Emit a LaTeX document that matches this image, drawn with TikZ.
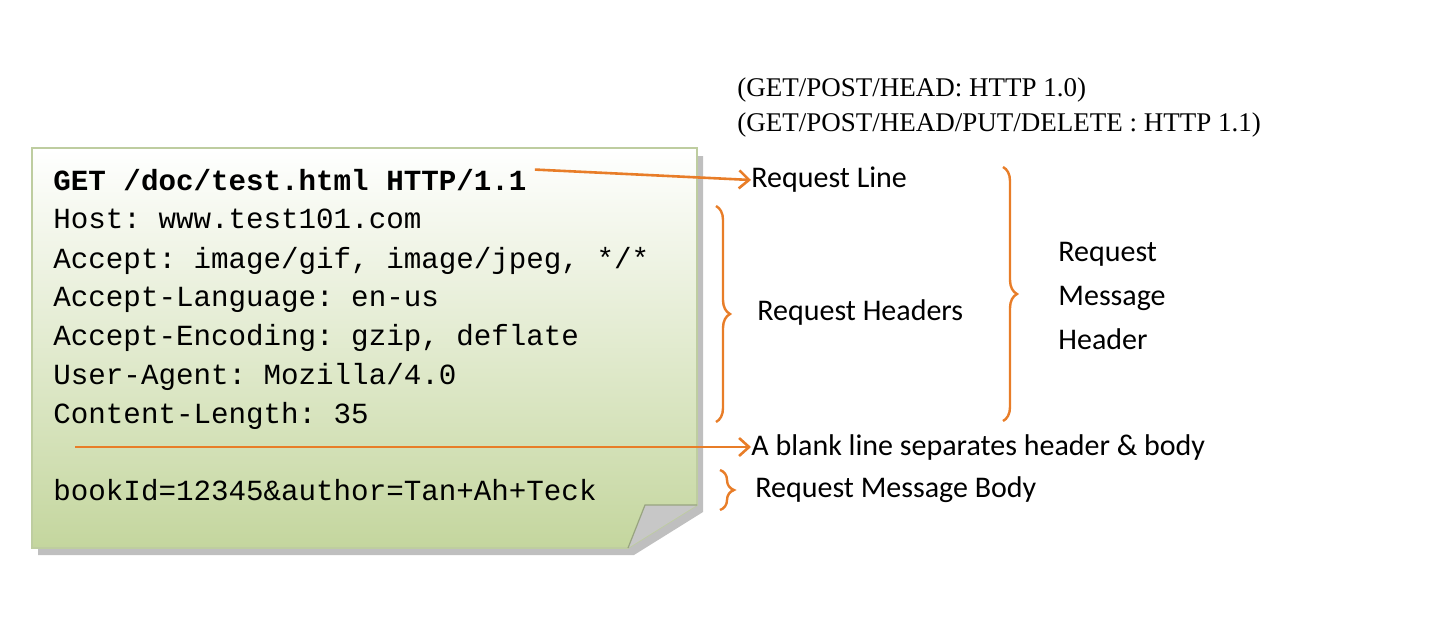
\documentclass[tikz,border=0pt]{standalone}
\usepackage{fontspec}
\setmainfont{Carlito}
\setmonofont{Liberation Mono}
\newfontfamily\timesfont{Liberation Serif}
\usetikzlibrary{arrows.meta,decorations.pathreplacing}
\definecolor{arrowor}{RGB}{232,125,40}
\definecolor{notegreen}{RGB}{196,214,158}
\definecolor{noteedge}{RGB}{190,205,160}
\begin{document}
\begin{tikzpicture}[x=0.5pt,y=-0.5pt,
  code/.style={anchor=base west,inner sep=0,font=\ttfamily\fontsize{14.6}{16}\selectfont},
  lbl/.style={anchor=west,inner sep=0,font=\fontsize{15}{18}\selectfont},
  top/.style={anchor=west,inner sep=0,font=\timesfont\fontsize{13.5}{16}\selectfont},
  orarrow/.style={draw=arrowor,line width=1.3pt,-{Straight Barb[length=5pt,width=9pt]}},
  orbrace/.style={draw=arrowor,line width=1.2pt,decorate,decoration={brace,amplitude=7pt}}]
\useasboundingbox (0,0) rectangle (1438,616);
% note
\path[fill=black!25] (38,156) -- (703,156) -- (703,512) -- (634,555) -- (38,555) -- cycle;
\path[top color=white,bottom color=notegreen,draw=noteedge,line width=0.8pt]
  (32,148) -- (697,148) -- (697,505) -- (628,548) -- (32,548) -- cycle;
\path[fill=black!22] (697,505) -- (628,548) -- (645,505) -- cycle;
\path[draw=noteedge!80!black,line width=0.6pt] (697,505) -- (645,505) -- (628,548);
% request text
\node[code,font=\ttfamily\bfseries\fontsize{14.6}{16}\selectfont] (reqline) at (53,190) {GET /doc/test.html HTTP/1.1};
\node[code] (host) at (53,228) {Host: www.test101.com};
\node[code] (accept) at (53,268) {Accept: image/gif, image/jpeg, */*};
\node[code] (lang) at (53,306) {Accept-Language: en-us};
\node[code] (enc) at (53,345) {Accept-Encoding: gzip, deflate};
\node[code] (agent) at (53,384) {User-Agent: Mozilla/4.0};
\node[code] (length) at (53,423) {Content-Length: 35};
\node[code] (body) at (53,500) {bookId=12345\&author=Tan+Ah+Teck};
\coordinate (blank) at (75,447);
% labels
\node[top] (v10) at (737,90) {(GET/POST/HEAD: HTTP 1.0)};
\node[top] (v11) at (737,125) {(GET/POST/HEAD/PUT/DELETE : HTTP 1.1)};
\node[lbl] (linelbl) at (751,180) {Request Line};
\node[lbl] (hdrlbl) at (757,312) {Request Headers};
\node[lbl] (blanklbl) at (751,447) {A blank line separates header \& body};
\node[lbl] (bodylbl) at (755,490) {Request Message Body};
\node[lbl,align=left,font=\fontsize{15}{22}\selectfont] (msglbl) at (1058,296) {Request\\Message\\Header};
% arrows and braces
\draw[orarrow] (reqline.east) ++(8,-10) -- (linelbl.west);
\draw[orarrow] (blank) -- (blanklbl.west);
\draw[orbrace] (716,206) -- (716,422);
\draw[orbrace] (1003,167) -- (1003,421);
\draw[orbrace] (720,470) -- (720,510);
\end{tikzpicture}
\end{document}
